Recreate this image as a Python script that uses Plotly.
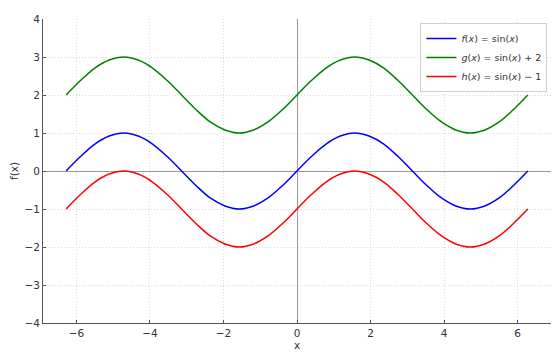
import plotly.graph_objects as go

x_vals = [-6.28, -5.89, -5.50, -5.11, -4.71, -4.32, -3.93, -3.53, -3.14, -2.75, -2.36,
          -1.96, -1.57, -1.18, -0.79, -0.39, 0.0, 0.39, 0.79, 1.18, 1.57, 1.96, 2.36,
          2.75, 3.14, 3.53, 3.93, 4.32, 4.71, 5.11, 5.50, 5.89, 6.28]
f_vals = [0, 0.38, 0.71, 0.92, 1, 0.92, 0.71, 0.38, 0, -0.38, -0.71, -0.92, -1, -0.92,
          -0.71, -0.38, 0, 0.38, 0.71, 0.92, 1, 0.92, 0.71, 0.38, 0, -0.38, -0.71, -0.92,
          -1, -0.92, -0.71, -0.38, 0]
g_vals = [2, 2.38, 2.71, 2.92, 3, 2.92, 2.71, 2.38, 2, 1.62, 1.29, 1.08, 1, 1.08,
          1.29, 1.62, 2, 2.38, 2.71, 2.92, 3, 2.92, 2.71, 2.38, 2, 1.62, 1.29, 1.08,
          1, 1.08, 1.29, 1.62, 2]
h_vals = [-1, -0.62, -0.29, -0.08, 0, -0.08, -0.29, -0.62, -1, -1.38, -1.71, -1.92, -2,
          -1.92, -1.71, -1.38, -1, -0.62, -0.29, -0.08, 0, -0.08, -0.29, -0.62, -1, -1.38,
          -1.71, -1.92, -2, -1.92, -1.71, -1.38, -1]

series_names = ["<i>f</i>(<i>x</i>) = sin(<i>x</i>)",
                "<i>g</i>(<i>x</i>) = sin(<i>x</i>) + 2",
                "<i>h</i>(<i>x</i>) = sin(<i>x</i>) − 1"]
series_colors = ["#0000ff", "#008000", "#ff0000"]
x_ticks = [-6, -4, -2, 0, 2, 4, 6]
y_ticks = [-4, -3, -2, -1, 0, 1, 2, 3, 4]

fig = go.Figure()
for name, ys, col in zip(series_names, [f_vals, g_vals, h_vals], series_colors):
    fig.add_trace(go.Scatter(x=x_vals, y=ys, mode="lines", name=name,
                             line=dict(color=col, width=1.5, shape="spline", smoothing=1)))

def tl(v):
    return str(v).replace("-", "−")

axis_common = dict(
    automargin=False,
    showgrid=True, gridcolor="#d8d8d8", griddash="1px,2px", gridwidth=1,
    zeroline=True, zerolinecolor="#999999", zerolinewidth=1.3,
    showline=True, linecolor="#555555", linewidth=1, mirror=False,
    ticks="inside", ticklen=3, tickcolor="#555555",
    tickfont=dict(family="DejaVu Sans", size=10.5, color="#333333"),
    title_font=dict(family="DejaVu Sans", size=10.5, color="#333333"),
)

fig.update_xaxes(range=[-6.91, 6.91], tickvals=x_ticks, ticktext=[tl(v) for v in x_ticks],
                 title_text="x", title_standoff=4, **axis_common)
fig.update_yaxes(range=[-4, 4], tickvals=y_ticks, ticktext=[tl(v) for v in y_ticks],
                 title_text="f(x)", title_standoff=6, **axis_common)

fig.update_layout(
    width=551, height=349,
    margin=dict(l=35, r=8, t=11, b=34),
    paper_bgcolor="white", plot_bgcolor="white",
    font=dict(family="DejaVu Sans", size=10, color="#333333"),
    legend=dict(x=0.993, y=0.987, xanchor="right", yanchor="top",
                bgcolor="rgba(255,255,255,0.9)", bordercolor="#d0d0d0", borderwidth=1,
                font=dict(family="DejaVu Sans", size=9.5, color="#333333"),
                tracegroupgap=0, itemwidth=30),
    showlegend=True,
)

fig.write_html("out.html")
